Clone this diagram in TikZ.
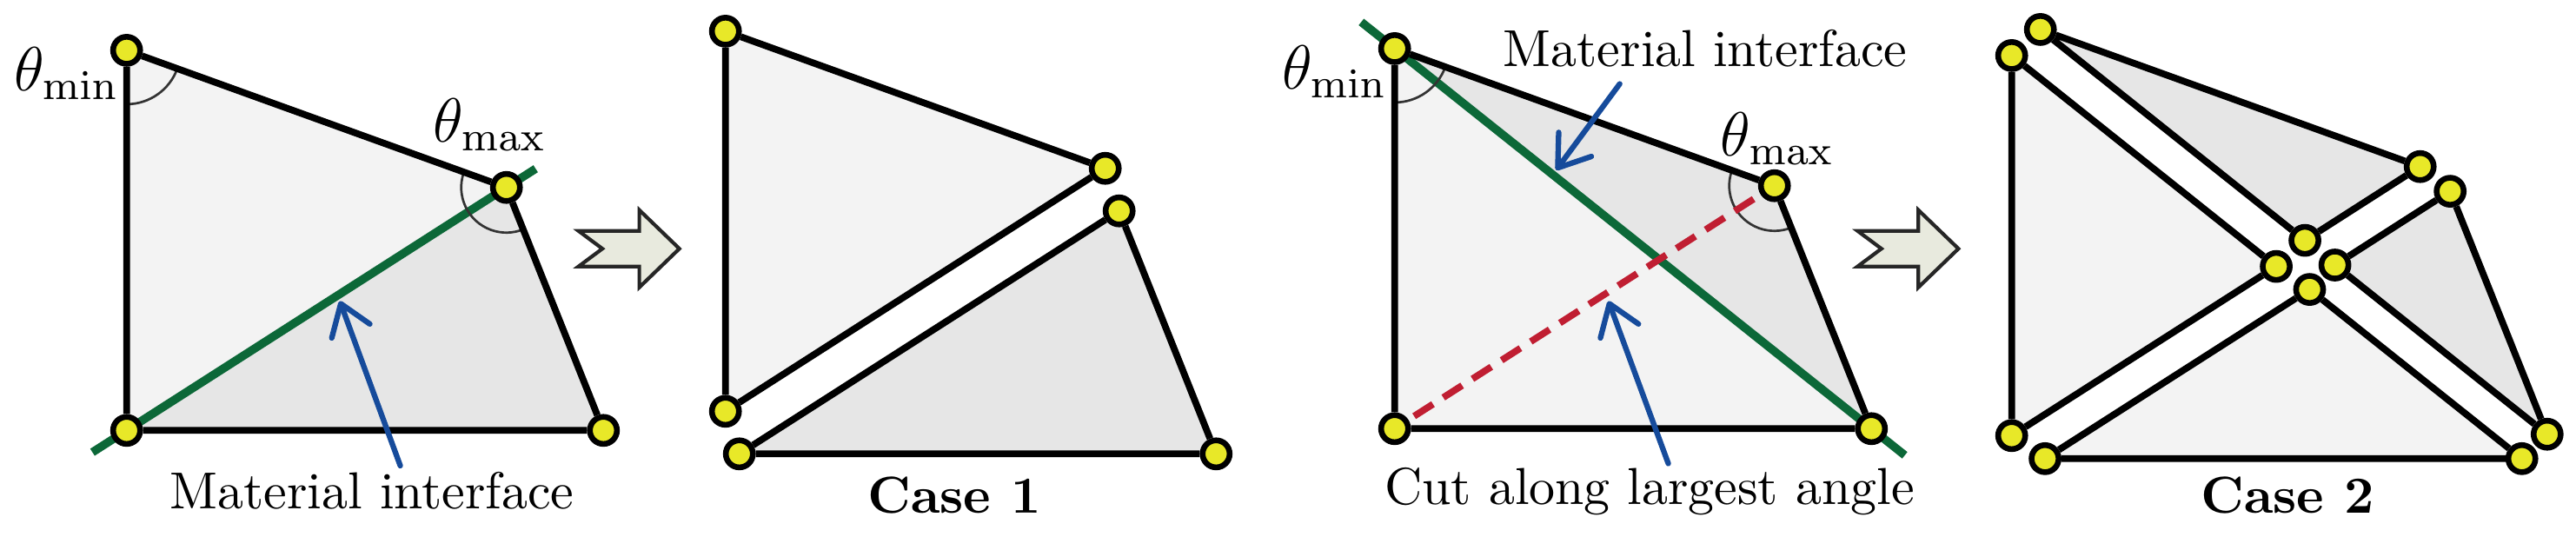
\documentclass[tikz,border=0pt]{standalone}
\usepackage{xcolor}
\usepackage{tikz}
\usetikzlibrary{arrows.meta,calc}

\definecolor{vtxyellow}{RGB}{232,232,40}
\definecolor{ifgreen}{RGB}{12,104,56}
\definecolor{cutred}{RGB}{192,30,50}
\definecolor{ptrblue}{RGB}{22,75,155}
\definecolor{lightcell}{RGB}{243,243,243}
\definecolor{darkcell}{RGB}{230,230,230}
\definecolor{arrowfill}{RGB}{232,234,222}

% corners of the quad (and crossing of its diagonals)
\newcommand{\meshpts}{%
  \coordinate (a) at (1.457,5.591);
  \coordinate (b) at (5.827,4.013);
  \coordinate (c) at (6.943,1.217);
  \coordinate (d) at (1.457,1.217);
  \coordinate (o) at (4.501,3.164);
}

% one piece of a split quad: prefix, shift, fill, three corners
\newcommand{\meshtri}[6]{%
  \begin{scope}[shift={#2},name prefix=#1-]
    \meshpts
    \fill[#3] (#4) -- (#5) -- (#6) -- cycle;
    \foreach \p in {#4,#5,#6} \node[vtx] (V\p) at (\p) {};
    \draw[celledge] (V#4) -- (V#5) -- (V#6) -- (V#4);
  \end{scope}}

\tikzset{
  vtx/.style={circle,draw=black,fill=vtxyellow,line width=1.1pt,inner sep=0pt,minimum size=5.2pt},
  celledge/.style={line width=1.3pt},
  lightpart/.style={fill=lightcell},
  darkpart/.style={fill=darkcell},
  iface/.style={draw=ifgreen,line width=1.6pt},
  cutline/.style={draw=cutred,line width=1.3pt,dash pattern=on 4.3pt off 2.35pt,shorten <=1.3pt,shorten >=1.3pt},
  pointer/.style={->,draw=ptrblue,line width=1.05pt,line cap=round},
  anglemark/.style={draw=black!80,line width=0.45pt},
  lbl/.style={inner sep=0pt},
  bigarrow/.pic={
    \draw[line width=0.7pt,draw=black!85,fill=arrowfill]
      (0,0) -- (0.70,0) -- (0.70,0.24) -- (1.161,-0.205) -- (0.70,-0.65)
      -- (0.70,-0.41) -- (0,-0.41) -- (0.275,-0.205) -- cycle;
  }
}

\begin{document}
\begin{tikzpicture}[x=0.587cm,y=0.587cm,>={Straight Barb[length=5.6pt,width=7.8pt,round]}]
\useasboundingbox (0,0) rectangle (29.64,6.17);

% element crossed by the interface
\begin{scope}[name prefix=q1-]
  \meshpts
  \fill[lightpart] (a) -- (b) -- (d) -- cycle;
  \fill[darkpart] (d) -- (b) -- (c) -- cycle;
  \coordinate (i1) at ($(d)!-0.09!(b)$);
  \coordinate (i2) at ($(b)!-0.077!(d)$);
  \draw[iface] (i1) -- (i2);
  \draw[anglemark] ($(a)+(0,-0.62)$) arc[start angle=-90,end angle=-19.9,radius=0.62];
  \draw[anglemark] ($(b)+(160.1:0.52)$) arc[start angle=160.1,end angle=291.8,radius=0.52];
  \foreach \v/\p in {A/a,B/b,C/c,D/d} \node[vtx] (\v) at (\p) {};
  \draw[celledge] (A) -- (B) -- (C) -- (D) -- (A);
  \node[lbl,anchor=base east] (tmin) at (1.38,5.13) {\large$\theta_{\min}$};
  \node[lbl,anchor=base west] (tmax) at (4.97,4.54) {\large$\theta_{\max}$};
  \node[lbl,anchor=base] (mi) at (4.28,0.32) {Material interface};
  \coordinate (mi-tail) at (4.606,0.81);
  \coordinate (mi-tip) at (3.91,2.705);
  \draw[pointer] (mi-tail) -- (mi-tip);
\end{scope}

\pic at (6.656,3.513) {bigarrow};

% case 1
\meshtri{c1u}{(6.89,0.22)}{lightpart}{a}{b}{d}
\meshtri{c1l}{(7.05,-0.27)}{darkpart}{d}{b}{c}
\node[lbl,anchor=base,font=\bfseries] (case1) at (10.98,0.265) {Case 1};

% element with the interface along the other diagonal
\begin{scope}[shift={(14.59,0.02)},name prefix=q2-]
  \meshpts
  \fill[lightpart] (a) -- (c) -- (d) -- cycle;
  \fill[darkpart] (a) -- (b) -- (c) -- cycle;
  \coordinate (i1) at ($(a)!-0.07!(c)$);
  \coordinate (i2) at ($(c)!-0.07!(a)$);
  \draw[iface] (i1) -- (i2);
  \draw[anglemark] ($(a)+(0,-0.62)$) arc[start angle=-90,end angle=-19.9,radius=0.62];
  \draw[anglemark] ($(b)+(160.1:0.52)$) arc[start angle=160.1,end angle=291.8,radius=0.52];
  \foreach \v/\p in {A/a,B/b,C/c,D/d} \node[vtx] (\v) at (\p) {};
  \draw[celledge] (A) -- (B) -- (C) -- (D) -- (A);
  \draw[cutline] (D) -- (B);
  \node[lbl,anchor=base east] (tmin) at (1.38,5.13) {\large$\theta_{\min}$};
  \node[lbl,anchor=base west] (tmax) at (5.197,4.36) {\large$\theta_{\max}$};
  \node[lbl,anchor=base] (mi) at (5.03,5.382) {Material interface};
  \node[lbl,anchor=base] (cut) at (4.39,0.343) {Cut along largest angle};
  \coordinate (mi-tail) at (4.047,5.185);
  \coordinate (mi-tip) at (3.315,4.193);
  \coordinate (cut-tail) at (4.606,0.815);
  \coordinate (cut-tip) at (3.917,2.685);
  \draw[pointer] (mi-tail) -- (mi-tip);
  \draw[pointer] (cut-tail) -- (cut-tip);
\end{scope}

\pic at (21.373,3.513) {bigarrow};

% case 2
\meshtri{c2t}{(22.02,0.24)}{darkpart}{a}{b}{o}
\meshtri{c2l}{(21.69,-0.06)}{lightpart}{a}{o}{d}
\meshtri{c2r}{(22.365,-0.044)}{darkpart}{b}{c}{o}
\meshtri{c2b}{(22.074,-0.325)}{lightpart}{d}{o}{c}
\node[lbl,anchor=base,font=\bfseries] (case2) at (26.32,0.264) {Case 2};

\end{tikzpicture}
\end{document}
